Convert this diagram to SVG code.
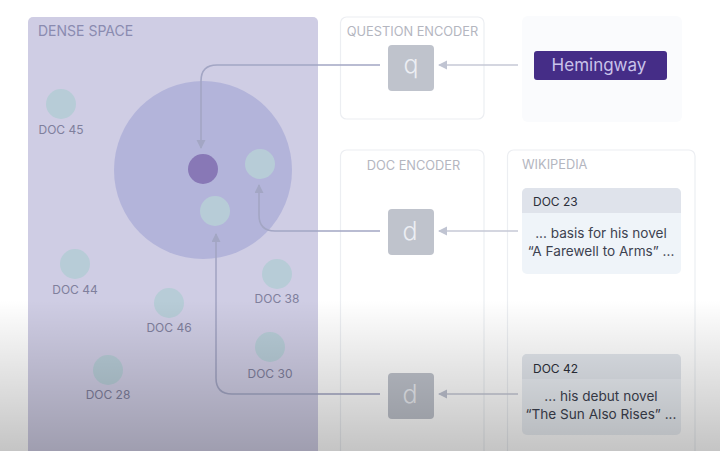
<svg xmlns="http://www.w3.org/2000/svg" width="720" height="451" viewBox="0 0 720 451">
<style>
text{font-family:Inter,"Liberation Sans",sans-serif}
.box{fill:#fff;stroke:#eceef2;stroke-width:1.2}
.doc{fill:#b7ccd7}
.dl{font-size:12px;fill:#7f7f9c;text-anchor:middle}
.title{font-size:12.800px;fill:#b4b6bf}
.enc{fill:#bfc3cc}
.letter{font-size:25px;font-weight:300;fill:#eceef3;text-anchor:middle}
.wire{fill:none;stroke:#a3a6c4;stroke-width:1.6}
.wire2{fill:none;stroke:#c6c8d6;stroke-width:1.6}
.head{font-size:12px;fill:#2b2f3a}
.body{font-size:13.600px;fill:#3d4250;text-anchor:middle}
</style>
<defs>
<marker id="a" markerWidth="10" markerHeight="10" refX="8" refY="4.500" orient="auto" markerUnits="userSpaceOnUse"><path d="M0 0L9 4.500L0 9Z" fill="#a3a6c4"/></marker>
<marker id="b" markerWidth="10" markerHeight="10" refX="8" refY="4.500" orient="auto" markerUnits="userSpaceOnUse"><path d="M0 0L9 4.500L0 9Z" fill="#c0c4d2"/></marker>
<linearGradient id="fade" x1="0" y1="0" x2="0" y2="1"><stop offset="0" stop-color="#000" stop-opacity="0"/><stop offset="1" stop-color="#000" stop-opacity=".23"/></linearGradient>
</defs>
<rect width="720" height="451" fill="#fff"/>
<g id="dense-space">
<rect x="28" y="17" width="290" height="450" rx="5" fill="#cfcde4"/>
<text x="38" y="36" fill="#8a8bb0" style="font-size:14px">DENSE SPACE</text>
<circle cx="203" cy="170" r="89" fill="#b3b4da"/>
</g>
<g id="doc45"><circle class="doc" cx="61" cy="104" r="15"/><text class="dl" x="61" y="134">DOC 45</text></g>
<g id="doc44"><circle class="doc" cx="75" cy="264" r="15"/><text class="dl" x="75" y="294">DOC 44</text></g>
<g id="doc46"><circle class="doc" cx="169" cy="303" r="15"/><text class="dl" x="169" y="332">DOC 46</text></g>
<g id="doc38"><circle class="doc" cx="277" cy="274" r="15"/><text class="dl" x="277" y="303">DOC 38</text></g>
<g id="doc30"><circle class="doc" cx="270" cy="347" r="15"/><text class="dl" x="270" y="378">DOC 30</text></g>
<g id="doc28"><circle class="doc" cx="108" cy="370" r="15"/><text class="dl" x="108" y="399">DOC 28</text></g>
<g id="query-point"><circle cx="203" cy="169" r="15" fill="#8878b6"/></g>
<g id="doc23-point"><circle class="doc" cx="260" cy="164" r="15"/></g>
<g id="doc42-point"><circle class="doc" cx="215" cy="211" r="15"/></g>
<g id="question-encoder">
<rect class="box" x="340.500" y="17" width="143.500" height="102" rx="6"/>
<text class="title" x="412.500" y="36" text-anchor="middle">QUESTION ENCODER</text>
<rect class="enc" x="388" y="45" width="46" height="46" rx="4"/>
<text class="letter" x="411" y="73">q</text>
</g>
<g id="doc-encoder">
<rect class="box" x="340.500" y="150" width="143.500" height="320" rx="6"/>
<text class="title" x="413.500" y="170" text-anchor="middle">DOC ENCODER</text>
<rect class="enc" x="388" y="209" width="46" height="46" rx="4"/>
<text class="letter" x="410" y="240">d</text>
<rect class="enc" x="388" y="373" width="46" height="46" rx="4"/>
<text class="letter" x="410" y="403">d</text>
</g>
<g id="hemingway">
<rect x="522" y="16" width="160" height="106" rx="6" fill="#fafbfd"/>
<rect x="534" y="51" width="133" height="29" rx="3" fill="#452d87"/>
<text x="599" y="70.500" fill="#c9c3ea" text-anchor="middle" style="font-size:17px">Hemingway</text>
</g>
<g id="wikipedia">
<rect class="box" x="507.500" y="150" width="187.500" height="320" rx="6"/>
<text class="title" x="522" y="169">WIKIPEDIA</text>
</g>
<g id="doc23">
<rect x="522" y="188" width="159" height="86" rx="5" fill="#eff4f9"/>
<path d="M522 213V193a5 5 0 0 1 5-5H676a5 5 0 0 1 5 5V213Z" fill="#dfe3eb"/>
<text class="head" x="533" y="206">DOC 23</text>
<text class="body" x="601" y="238">... basis for his novel</text>
<text class="body" x="601" y="256">“A Farewell to Arms” ...</text>
</g>
<g id="doc42">
<rect x="522" y="354" width="159" height="81" rx="5" fill="#eaeef3"/>
<path d="M522 379V359a5 5 0 0 1 5-5H676a5 5 0 0 1 5 5V379Z" fill="#e2e6ec"/>
<text class="head" x="533" y="373">DOC 42</text>
<text class="body" x="601" y="401">... his debut novel</text>
<text class="body" x="601" y="419">“The Sun Also Rises” ...</text>
</g>
<g id="connectors">
<path class="wire2" d="M518 65H439" marker-end="url(#b)"/>
<path class="wire2" d="M518 231H439" marker-end="url(#b)"/>
<path class="wire2" d="M518 394H439" marker-end="url(#b)"/>
<path class="wire" d="M380 65H217Q201 65 201 81V148" marker-end="url(#a)"/>
<path class="wire" d="M380 231H275Q259 231 259 215V185" marker-end="url(#a)"/>
<path class="wire" d="M380 394H232Q216 394 216 378V234" marker-end="url(#a)"/>
</g>
<rect x="0" y="300" width="720" height="151" fill="url(#fade)"/>
</svg>
